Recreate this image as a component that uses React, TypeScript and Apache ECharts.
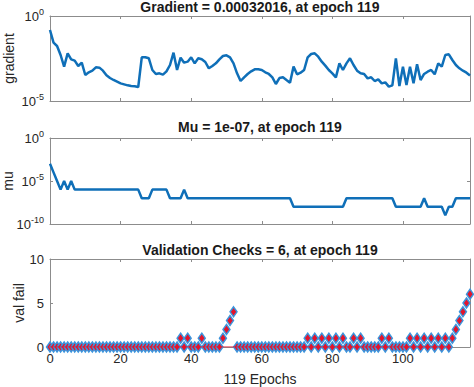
import React, { useEffect, useRef } from 'react';
import * as echarts from 'echarts';

const epochs: number[] = Array.from({ length: 120 }, (_, i) => i);

const gradient: number[] = [
  0.15, 0.027, 0.0172, 0.00508, 0.00105, 0.00637, 0.00283, 0.00236, 0.00115, 0.0018,
  0.000338, 0.000486, 0.000608, 0.000955, 0.000914, 0.000608, 0.000323, 0.000225, 0.000172, 0.000137,
  0.000109, 9.55e-5, 8.35e-5, 7.62e-5, 7.3e-5, 6.67e-5, 0.00371, 0.00371, 0.00324, 0.000667,
  0.000388, 0.000424, 0.000354, 0.000556, 0.00131, 0.00697, 0.000667, 0.00354, 0.0018, 0.00206,
  0.00371, 0.00164, 0.00324, 0.00283, 0.00197, 0.000835, 0.00115, 0.00164, 0.00283, 0.00444,
  0.00485, 0.00371, 0.00164, 0.000424, 0.00015, 0.000247, 0.000388, 0.000556, 0.000729, 0.000729,
  0.000667, 0.000486, 0.000388, 0.000247, 0.0001, 0.000225, 0.000247, 0.000172, 0.00012, 0.00105,
  0.000371, 0.000464, 0.000667, 0.00371, 0.00582, 0.00637, 0.00406, 0.00206, 0.0012, 0.000667,
  0.000424, 0.000247, 0.00164, 0.000667, 0.00164, 0.00324, 0.00131, 0.000608, 0.000424, 0.000388,
  0.000215, 0.000247, 0.00015, 0.000188, 0.000109, 0.000125, 6.97e-5, 8.35e-5, 0.00324, 7.62e-5,
  0.00105, 8.73e-5, 0.00105, 0.000109, 0.00144, 0.000172, 0.000388, 0.000531, 0.000667, 0.000371,
  0.00164, 0.00105, 0.00508, 0.00556, 0.00258, 0.00131, 0.000835, 0.000608, 0.000464, 0.00032016,
];

const mu: number[] = [
  1e-3, 1e-4, 1e-5, 1e-6, 1e-5, 1e-6, 1e-5, 1e-6, 1e-6, 1e-6,
  1e-6, 1e-6, 1e-6, 1e-6, 1e-6, 1e-6, 1e-6, 1e-6, 1e-6, 1e-6,
  1e-6, 1e-6, 1e-6, 1e-6, 1e-6, 1e-6, 1e-7, 1e-7, 1e-7, 1e-6,
  1e-6, 1e-6, 1e-6, 1e-6, 1e-7, 1e-7, 1e-7, 1e-7, 1e-6, 1e-7,
  1e-7, 1e-7, 1e-7, 1e-7, 1e-7, 1e-7, 1e-7, 1e-7, 1e-7, 1e-7,
  1e-7, 1e-7, 1e-7, 1e-7, 1e-7, 1e-7, 1e-7, 1e-7, 1e-7, 1e-7,
  1e-7, 1e-7, 1e-7, 1e-7, 1e-7, 1e-7, 1e-7, 1e-7, 1e-7, 1e-8,
  1e-8, 1e-8, 1e-8, 1e-8, 1e-8, 1e-8, 1e-8, 1e-8, 1e-8, 1e-8,
  1e-8, 1e-8, 1e-8, 1e-8, 1e-7, 1e-7, 1e-7, 1e-7, 1e-7, 1e-7,
  1e-7, 1e-7, 1e-7, 1e-7, 1e-7, 1e-7, 1e-7, 1e-7, 1e-8, 1e-8,
  1e-8, 1e-8, 1e-8, 1e-8, 1e-8, 1e-8, 1e-7, 1e-8, 1e-8, 1e-8,
  1e-8, 1e-8, 1e-9, 1e-8, 1e-8, 1e-7, 1e-7, 1e-7, 1e-7, 1e-7,
];

const valFail: number[] = [
  0, 0, 0, 0, 0, 0, 0, 0, 0, 0,
  0, 0, 0, 0, 0, 0, 0, 0, 0, 0,
  0, 0, 0, 0, 0, 0, 0, 0, 0, 0,
  0, 0, 0, 0, 0, 0, 0, 1, 0, 1,
  0, 0, 0, 1, 0, 0, 0, 0, 0, 1,
  2, 3, 4, 0, 0, 0, 0, 0, 0, 0,
  0, 0, 0, 0, 0, 0, 0, 0, 0, 0,
  0, 0, 0, 1, 0, 1, 0, 1, 0, 1,
  0, 1, 0, 1, 0, 0, 1, 0, 1, 0,
  0, 0, 0, 0, 1, 0, 1, 0, 0, 0,
  0, 0, 1, 0, 1, 0, 1, 0, 1, 0,
  1, 0, 1, 0, 1, 2, 3, 4, 5, 6,
];

const titles = [
  'Gradient = 0.00032016, at epoch 119',
  'Mu = 1e-07, at epoch 119',
  'Validation Checks = 6, at epoch 119',
];
const yNames = ['gradient', 'mu', 'val fail'];
const xName = '119 Epochs';

const FONT = '"Liberation Sans", Arial, Helvetica, sans-serif';
const AXIS = '#8c8c8c';
const TEXT = '#262626';
const BLUE = '#0f6fb8';
const RED = '#e3142c';
const LBLUE = '#3b95dd';

export default function App() {
  const ref = useRef<HTMLDivElement>(null);
  useEffect(() => {
    const chart = echarts.init(ref.current!, null, { renderer: 'svg' });
    const grids = [
      { left: 50, right: 4, top: 16, height: 85, outerBoundsMode: 'none', containLabel: false },
      { left: 50, right: 4, top: 138, height: 86, outerBoundsMode: 'none', containLabel: false },
      { left: 50, right: 4, top: 259, height: 88, outerBoundsMode: 'none', containLabel: false },
    ];
    const rich = {
      b: { fontSize: 13, fontFamily: FONT, color: TEXT },
      s: { fontSize: 9, fontFamily: FONT, color: TEXT, padding: [0, 0, 9, 0] },
    };
    const logLabel = (v: number) => `{b|10}{s|${Math.round(Math.log10(v))}}`;
    const nameGaps = [34, 35, 24];

    const xAxes: any[] = [];
    const yAxes: any[] = [];
    grids.forEach((_, i) => {
      ['bottom', 'top'].forEach((pos) => {
        const main = i === 2 && pos === 'bottom';
        xAxes.push({
          type: 'value', gridIndex: i, position: pos, min: 0, max: 119, interval: 20,
          axisLine: { show: true, onZero: false, lineStyle: { color: AXIS, width: 1 } },
          axisTick: { show: true, inside: true, length: 3, lineStyle: { color: AXIS } },
          axisLabel: { show: main, showMaxLabel: false, margin: 5, fontSize: 13, fontFamily: FONT, color: TEXT },
          splitLine: { show: false },
          name: main ? xName : '',
          nameLocation: 'middle', nameGap: 25, nameMoveOverlap: false,
          nameTextStyle: { fontSize: 14, fontFamily: FONT, color: TEXT },
        });
      });
      ['left', 'right'].forEach((pos) => {
        const main = pos === 'left';
        const base: any = {
          gridIndex: i, position: pos,
          axisLine: { show: true, onZero: false, lineStyle: { color: AXIS, width: 1 } },
          axisTick: { show: true, inside: true, length: 3, lineStyle: { color: AXIS } },
          splitLine: { show: false },
          name: main ? yNames[i] : '',
          nameLocation: 'middle', nameGap: nameGaps[i], nameMoveOverlap: false,
          nameTextStyle: { fontSize: 14, fontFamily: FONT, color: TEXT },
        };
        if (i === 0) {
          Object.assign(base, { type: 'log', logBase: 10, min: 1e-5, max: 1, interval: 5,
            axisLabel: { show: main, margin: 6, formatter: logLabel, rich } });
        } else if (i === 1) {
          Object.assign(base, { type: 'log', logBase: 10, min: 1e-10, max: 1, interval: 5,
            axisLabel: { show: main, margin: 6, formatter: logLabel, rich } });
        } else {
          Object.assign(base, { type: 'value', min: 0, max: 10, interval: 5,
            axisLabel: { show: main, margin: 6, fontSize: 13, fontFamily: FONT, color: TEXT } });
        }
        yAxes.push(base);
      });
    });

    const titleY = [7, 127, 250];
    chart.setOption({
      animation: false,
      backgroundColor: '#ffffff',
      grid: grids,
      xAxis: xAxes,
      yAxis: yAxes,
      graphic: titles.map((t, i) => ({
        type: 'text', x: 260, y: titleY[i],
        style: { text: t, fontSize: 14, fontWeight: 'bold', fontFamily: FONT, fill: '#1a1a1a',
          align: 'center', verticalAlign: 'middle', textAlign: 'center', textVerticalAlign: 'middle' },
      })),
      series: [
        { type: 'line', xAxisIndex: 0, yAxisIndex: 0, data: epochs.map((e) => [e, gradient[e]]),
          symbol: 'none', lineStyle: { color: BLUE, width: 2.5 }, itemStyle: { color: BLUE } },
        { type: 'line', xAxisIndex: 2, yAxisIndex: 2, data: epochs.map((e) => [e, mu[e]]),
          symbol: 'none', lineStyle: { color: BLUE, width: 2.5 }, itemStyle: { color: BLUE } },
        { type: 'line', xAxisIndex: 4, yAxisIndex: 4,
          data: epochs.filter((e) => valFail[e] === 0).map((e) => [e, valFail[e]]),
          symbol: 'none', lineStyle: { color: RED, width: 1 }, itemStyle: { color: RED } },
        { type: 'scatter', xAxisIndex: 4, yAxisIndex: 4, data: epochs.map((e) => [e, valFail[e]]),
          symbol: 'diamond', symbolSize: [7, 10],
          itemStyle: { color: RED, borderColor: LBLUE, borderWidth: 1.5, opacity: 1 } },
      ],
    });
    return () => chart.dispose();
  }, []);
  return <div ref={ref} style={{ position: 'fixed', left: 0, top: 0, width: 474, height: 387, background: '#fff' }} />;
}
